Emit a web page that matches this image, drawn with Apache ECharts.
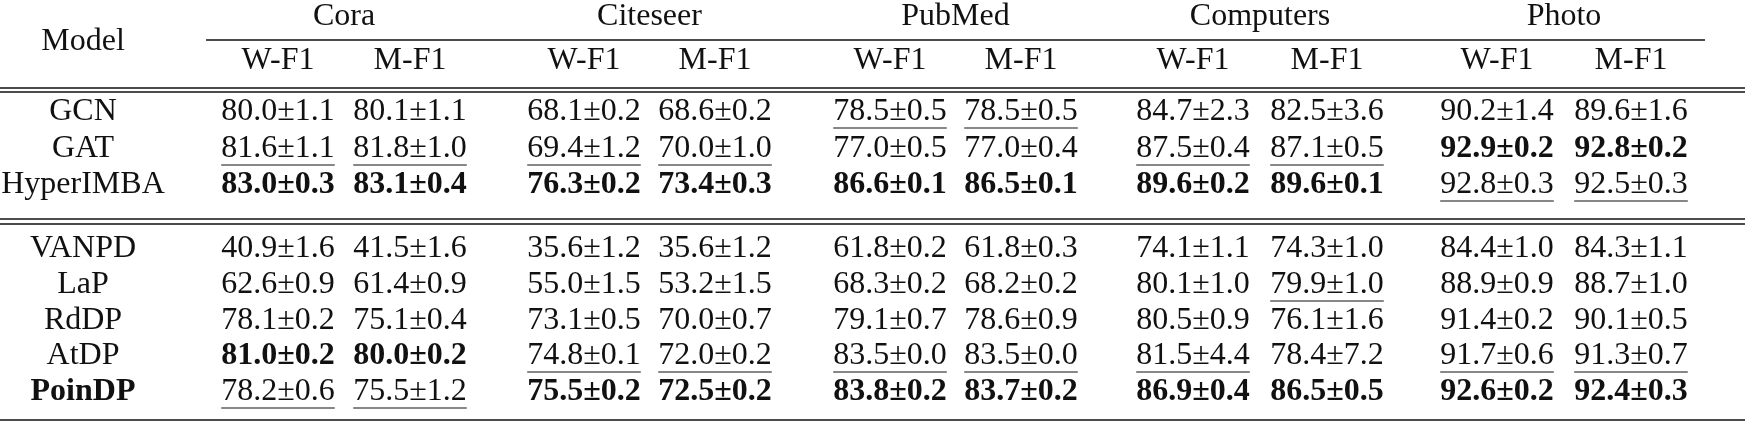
<!DOCTYPE html>
<html><head><meta charset="utf-8">
<script src="https://cdn.jsdelivr.net/npm/echarts@6/dist/echarts.min.js"></script>
<style>html,body{margin:0;background:#fff}#main{width:1745px;height:425px}</style>
</head><body><div id="main"></div>
<script>
// table content
var datasets = ['Cora', 'Citeseer', 'PubMed', 'Computers', 'Photo'];
var metrics = ['W-F1', 'M-F1'];
var models = ['GCN', 'GAT', 'HyperIMBA', 'VANPD', 'LaP', 'RdDP', 'AtDP', 'PoinDP'];
var scores = [
    ['80.0±1.1', '80.1±1.1', '68.1±0.2', '68.6±0.2', '78.5±0.5', '78.5±0.5', '84.7±2.3', '82.5±3.6', '90.2±1.4', '89.6±1.6'],
    ['81.6±1.1', '81.8±1.0', '69.4±1.2', '70.0±1.0', '77.0±0.5', '77.0±0.4', '87.5±0.4', '87.1±0.5', '92.9±0.2', '92.8±0.2'],
    ['83.0±0.3', '83.1±0.4', '76.3±0.2', '73.4±0.3', '86.6±0.1', '86.5±0.1', '89.6±0.2', '89.6±0.1', '92.8±0.3', '92.5±0.3'],
    ['40.9±1.6', '41.5±1.6', '35.6±1.2', '35.6±1.2', '61.8±0.2', '61.8±0.3', '74.1±1.1', '74.3±1.0', '84.4±1.0', '84.3±1.1'],
    ['62.6±0.9', '61.4±0.9', '55.0±1.5', '53.2±1.5', '68.3±0.2', '68.2±0.2', '80.1±1.0', '79.9±1.0', '88.9±0.9', '88.7±1.0'],
    ['78.1±0.2', '75.1±0.4', '73.1±0.5', '70.0±0.7', '79.1±0.7', '78.6±0.9', '80.5±0.9', '76.1±1.6', '91.4±0.2', '90.1±0.5'],
    ['81.0±0.2', '80.0±0.2', '74.8±0.1', '72.0±0.2', '83.5±0.0', '83.5±0.0', '81.5±4.4', '78.4±7.2', '91.7±0.6', '91.3±0.7'],
    ['78.2±0.6', '75.5±1.2', '75.5±0.2', '72.5±0.2', '83.8±0.2', '83.7±0.2', '86.9±0.4', '86.5±0.5', '92.6±0.2', '92.4±0.3']
];
// b = best (bold), u = second (underline)
var marks = [
    ['', '', '', '', 'u', 'u', '', '', '', ''],
    ['u', 'u', 'u', 'u', '', '', 'u', 'u', 'b', 'b'],
    ['b', 'b', 'b', 'b', 'b', 'b', 'b', 'b', 'u', 'u'],
    ['', '', '', '', '', '', '', '', '', ''],
    ['', '', '', '', '', '', '', 'u', '', ''],
    ['', '', '', '', '', '', '', '', '', ''],
    ['b', 'b', 'u', 'u', 'u', 'u', 'u', '', 'u', 'u'],
    ['u', 'u', 'b', 'b', 'b', 'b', 'b', 'b', 'b', 'b']
];

// layout
var modelX = 83;
var colX = [278, 410, 584, 715, 890, 1021, 1193, 1327, 1497, 1631];
var rowY = [112, 149, 185, 249, 285, 321, 356, 392];
var FONT = '"Liberation Serif", "DejaVu Serif", serif';
var SIZE = 32;

var cells = [];
datasets.forEach(function (d, i) {
    cells.push([(colX[2 * i] + colX[2 * i + 1]) / 2, 17, d, '']);
    metrics.forEach(function (m, j) { cells.push([colX[2 * i + j], 61, m, '']); });
});
cells.push([modelX, 42, 'Model', '']);
models.forEach(function (m, r) {
    cells.push([modelX, rowY[r], m, m === 'PoinDP' ? 'b' : '']);
    scores[r].forEach(function (s, c) { cells.push([colX[c], rowY[r], s, marks[r][c]]); });
});

// horizontal rules: y, x1, x2, width
var rules = [
    [40, 206, 1705, 1.3],
    [88, 0, 1745, 1.3], [92, 0, 1745, 1.3],
    [219, 0, 1745, 1.3], [224, 0, 1745, 1.3],
    [420, 0, 1745, 1.6]
];

var ctx = document.createElement('canvas').getContext('2d');
function textWidth(t, bold) {
    ctx.font = (bold ? 'bold ' : '') + SIZE + 'px ' + FONT;
    return ctx.measureText(t).width;
}

var chart = echarts.init(document.getElementById('main'));
chart.setOption({
    animation: false,
    grid: { left: 0, right: 0, top: 0, bottom: 0 },
    xAxis: { type: 'value', min: 0, max: 1745, show: false },
    yAxis: { type: 'value', min: 0, max: 425, inverse: true, show: false },
    series: [{
        type: 'custom',
        data: cells,
        renderItem: function (params, api) {
            var p = api.coord([api.value(0), api.value(1)]);
            var t = cells[params.dataIndex][2];
            var mk = cells[params.dataIndex][3];
            var children = [{
                type: 'text',
                style: {
                    x: p[0], y: p[1], text: t, fill: '#111',
                    font: (mk === 'b' ? 'bold ' : '') + SIZE + 'px ' + FONT,
                    align: 'center', verticalAlign: 'middle'
                }
            }];
            if (mk === 'u') {
                var w = textWidth(t, false);
                children.push({
                    type: 'line',
                    shape: { x1: p[0] - w / 2, y1: p[1] + 16, x2: p[0] + w / 2, y2: p[1] + 16 },
                    style: { stroke: '#111', lineWidth: 1.2 }
                });
            }
            return { type: 'group', children: children };
        }
    }, {
        type: 'custom',
        data: rules,
        renderItem: function (params, api) {
            var a = api.coord([api.value(1), api.value(0)]);
            var b = api.coord([api.value(2), api.value(0)]);
            return {
                type: 'line',
                shape: { x1: a[0], y1: a[1], x2: b[0], y2: b[1] },
                style: { stroke: '#111', lineWidth: api.value(3) }
            };
        }
    }]
});
</script>
</body></html>
